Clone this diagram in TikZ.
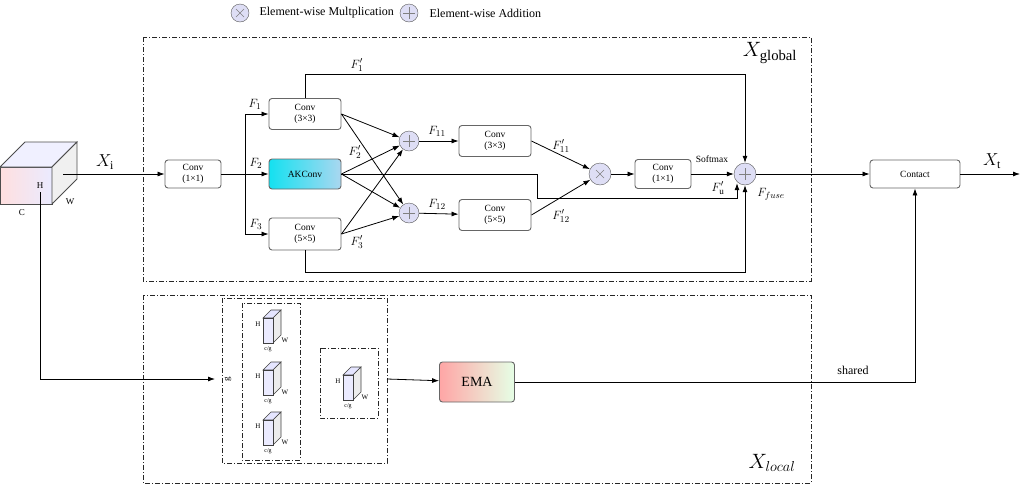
\documentclass[tikz,border=0pt]{standalone}
\usepackage{fontspec}
\setmainfont{Liberation Serif}
\usetikzlibrary{arrows.meta,calc}
\definecolor{circ}{RGB}{222,222,245}
\definecolor{ak}{RGB}{20,225,240}
\definecolor{akb}{RGB}{170,215,240}
\begin{document}
\begin{tikzpicture}[x=1pt,y=-1pt,
 box/.style={draw=gray!80!black,rounded corners=3pt,line width=0.9pt,align=center,inner sep=0pt,font=\fontsize{9.5}{11}\selectfont},
 op/.style={circle,draw=gray!70!black,fill=circ,minimum size=20pt,inner sep=0pt},
 arr/.style={-{Latex[length=7pt,width=5pt]},line width=0.8pt},
 ln/.style={line width=0.8pt},
 dd/.style={dash pattern=on 5pt off 2pt on 1pt off 2pt,line width=0.7pt,draw=gray!30!black},
 lab/.style={font=\fontsize{13}{14}\selectfont,inner sep=0pt}]
\useasboundingbox (0,0) rectangle (1025,485);
% legend
\node[op,minimum size=18pt] (lx) at (240,13) {};
\draw[gray,line width=0.6pt] ($(lx)+(-4,-4)$)--($(lx)+(4,4)$) ($(lx)+(-4,4)$)--($(lx)+(4,-4)$);
\node[anchor=west,font=\fontsize{12}{13}\selectfont] (lxt) at (256,13) {Element-wise Multplication};
\node[op,minimum size=18pt] (lp) at (409,13) {};
\draw[gray,line width=0.6pt] ($(lp)+(-6,0)$)--($(lp)+(6,0)$) ($(lp)+(0,-6)$)--($(lp)+(0,6)$);
\node[anchor=west,font=\fontsize{12}{13}\selectfont] (lpt) at (426,13) {Element-wise Addition};
% regions
\draw[dd] (143,37) rectangle (811,281);
\draw[dd] (143,295) rectangle (811,483);
\node[font=\fontsize{21}{22}\selectfont] (xg) at (770,53) {$X_{\mathrm{global}}$};
\node[font=\fontsize{21}{22}\selectfont] (xl) at (772,463) {$X_{local}$};
% cube
\shade[left color=pink!50,right color=blue!8,draw=gray!60!black,line width=0.8pt] (0,167) rectangle (52,204);
\fill[blue!6,draw=gray!60!black,line width=0.8pt] (0,167)--(25,142)--(77,142)--(52,167)--cycle;
\fill[gray!12,draw=gray!60!black,line width=0.8pt] (52,167)--(77,142)--(77,179)--(52,204)--cycle;
\node[font=\fontsize{9}{10}\selectfont] (hc) at (40,186) {H};
\node[font=\fontsize{9}{10}\selectfont] (cc) at (22,213) {C};
\node[font=\fontsize{9}{10}\selectfont] (wc) at (70,202) {W};
\coordinate (cubeout) at (63,174);
\coordinate (cubedown) at (40,192);
% global nodes
\node[box,minimum width=56pt,minimum height=28pt] (c11) at (193,174) {Conv\\(1×1)};
\node[box,minimum width=72pt,minimum height=31pt] (c33) at (305,114) {Conv\\(3×3)};
\node[box,minimum width=72pt,minimum height=30pt,left color=ak,right color=akb] (akc) at (305,174) {AKConv};
\node[box,minimum width=72pt,minimum height=32pt] (c55) at (305,234) {Conv\\(5×5)};
\node[op] (p1) at (409,141) {};
\node[op] (p2) at (409,213) {};
\foreach \p in {p1,p2}{\draw[gray,line width=0.6pt] ($(\p)+(-6,0)$)--($(\p)+(6,0)$) ($(\p)+(0,-6)$)--($(\p)+(0,6)$);}
\node[box,minimum width=72pt,minimum height=31pt] (d33) at (495,141) {Conv\\(3×3)};
\node[box,minimum width=72pt,minimum height=31pt] (d55) at (495,215) {Conv\\(5×5)};
\node[op,minimum size=22pt] (mx) at (600,174) {};
\draw[gray,line width=0.6pt] ($(mx)+(-4,-4)$)--($(mx)+(4,4)$) ($(mx)+(-4,4)$)--($(mx)+(4,-4)$);
\node[box,minimum width=56pt,minimum height=29pt] (e11) at (663,174) {Conv\\(1×1)};
\node[op,minimum size=22pt] (ps) at (745,174) {};
\draw[gray,line width=0.6pt] ($(ps)+(-6,0)$)--($(ps)+(6,0)$) ($(ps)+(0,-6)$)--($(ps)+(0,6)$);
\node[box,minimum width=90pt,minimum height=28pt] (ct) at (915,174) {Contact};
\coordinate (xtend) at (1020,174);
\coordinate (sp) at (245,174);
% connections
\draw[arr] (cubeout) -- (c11);
\node[lab,font=\fontsize{17}{18}\selectfont] (xi) at (105,162) {$X_{\mathrm{i}}$};
\draw[ln] (c11.east) -- (sp);
\draw[arr] (sp) |- (c33.west);
\draw[arr] (sp) -- (akc.west);
\draw[arr] (sp) |- (c55.west);
\node[lab] (f1) at (255,104) {$F_1$};
\node[lab] (f2) at (256,163) {$F_2$};
\node[lab] (f3) at (256,224) {$F_3$};
\foreach \s in {c33,akc,c55}{\draw[arr] (\s.east) -- (p1); \draw[arr] (\s.east) -- (p2);}
\node[lab] (f2p) at (355,152) {$F'_2$};
\node[lab] (f3p) at (357,242) {$F'_3$};
\draw[arr] (p1) -- (d33);
\draw[arr] (p2) -- (d55);
\node[lab] (f11) at (437,131) {$F_{11}$};
\node[lab] (f12) at (437,204) {$F_{12}$};
\draw[arr] (d33.east) -- (mx);
\draw[arr] (d55.east) -- (mx);
\node[lab] (f11p) at (561,146) {$F'_{11}$};
\node[lab] (f12p) at (561,216) {$F'_{12}$};
\draw[arr] (mx) -- (e11);
\draw[arr] (e11) -- (ps);
\node[font=\fontsize{9.5}{10}\selectfont] (sm) at (712,159) {Softmax};
\draw[arr] (c33.north) -- (305,74) -| (ps.north);
\node[lab] (f1p) at (357,65) {$F'_1$};
\draw[arr] (c55.south) -- (305,272) -| (ps.south);
\draw[arr] (akc.east) -- (537,174) -- (537,198) -| ($(ps.south)+(-8,-2)$);
\node[lab] (fu) at (718,188) {$F'_{\mathrm{u}}$};
\draw[arr] (ps) -- (ct);
\node[lab] (ff) at (771,194) {$F_{fuse}$};
\draw[arr] (ct) -- (xtend);
\node[lab,font=\fontsize{17}{18}\selectfont] (xt) at (992,161) {$X_{\mathrm{t}}$};
% local
\draw[dd] (222,298) rectangle (387,463);
\draw[dd] (242,303) rectangle (300,460);
\draw[dd] (320,348) rectangle (378,418);
\node[rotate=90,font=\fontsize{9}{10}\selectfont] (gl) at (228,379) {g};
\coordinate (gin) at (215,379);
\draw[arr] (cubedown) |- (gin);
\foreach \cx/\cy/\nm in {263/318/a,263/370/b,263/420/c,343/375/d}{
 \fill[blue!10,draw=gray!50!black,line width=0.6pt] (\cx,\cy)--(\cx+8,\cy-8)--(\cx+18,\cy-8)--(\cx+10,\cy)--cycle;
 \fill[gray!15,draw=gray!50!black,line width=0.6pt] (\cx+10,\cy)--(\cx+18,\cy-8)--(\cx+18,\cy+17)--(\cx+10,\cy+25)--cycle;
 \fill[blue!8,draw=gray!50!black,line width=0.6pt] (\cx,\cy) rectangle (\cx+10,\cy+25);
 \node[font=\fontsize{7}{8}\selectfont] (h\nm) at (\cx-5,\cy+6) {H};
 \node[font=\fontsize{7}{8}\selectfont] (w\nm) at (\cx+22,\cy+22) {W};
 \node[font=\fontsize{6}{7}\selectfont] (g\nm) at (\cx+5,\cy+31) {c/g};
}
\node[box,minimum width=75pt,minimum height=40pt,left color=red!35,right color=green!10,font=\fontsize{14}{15}\selectfont] (ema) at (477,382) {EMA};
\draw[arr] (387,379) -- (ema);
\draw[arr] (ema.east) -| (ct.south);
\node[font=\fontsize{12}{13}\selectfont] (sh) at (853,370) {shared};
\end{tikzpicture}
\end{document}
